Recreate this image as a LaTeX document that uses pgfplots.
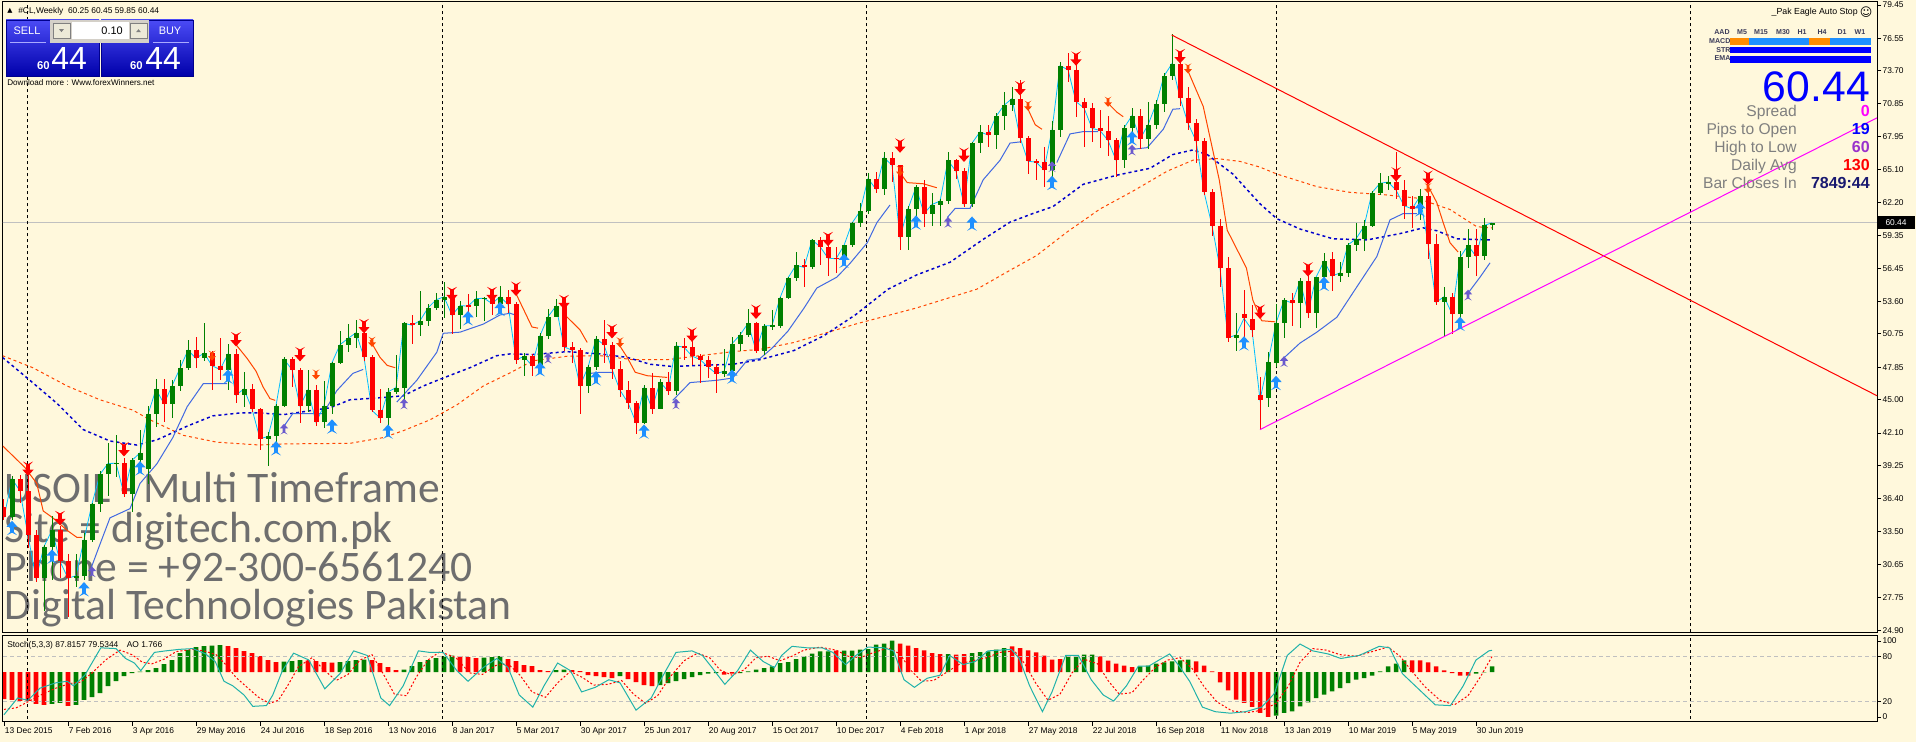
\documentclass[border=0pt]{standalone}
\usepackage{fontspec}
\setmainfont{Liberation Sans}
\newfontfamily\carlito{Carlito}
\newfontfamily\dejavu{DejaVu Sans}
\usepackage{pgfplots}
\pgfplotsset{compat=1.18}
\usepackage{pgfplotstable}
\definecolor{bg}{HTML}{FFF8DC}
\definecolor{bull}{HTML}{008000}
\definecolor{bear}{HTML}{FF0000}
\definecolor{ored}{HTML}{FF4500}
\definecolor{rblue}{HTML}{4169E1}
\definecolor{dsky}{HTML}{00BFFF}
\definecolor{mblue}{HTML}{0000CD}
\definecolor{dodger}{HTML}{1E90FF}
\definecolor{slate}{HTML}{6A5ACD}
\definecolor{lsg}{HTML}{20B2AA}
\definecolor{wm}{HTML}{6E6E6E}
\definecolor{lgrey}{HTML}{C0C0C0}
\definecolor{dorange}{HTML}{FF8C00}
\definecolor{purp}{HTML}{9932CC}
\definecolor{navy2}{HTML}{191970}
\definecolor{lbl}{HTML}{7F7F7F}
\definecolor{magen}{HTML}{FF00FF}
\definecolor{lotgrey}{RGB}{212,208,200}
\definecolor{btn}{RGB}{236,233,216}
\definecolor{sepc}{RGB}{170,170,255}
\definecolor{hdr}{RGB}{60,60,90}
\definecolor{shtop}{RGB}{75,75,245}
\definecolor{shbot}{RGB}{0,0,170}
\definecolor{shdraw}{RGB}{0,0,140}
\pgfdeclareplotmark{dnarrow}{%
\pgfpathmoveto{\pgfqpoint{0pt}{-\pgfplotmarksize}}%
\pgfpathlineto{\pgfqpoint{0.9\pgfplotmarksize}{0pt}}%
\pgfpathlineto{\pgfqpoint{0.3\pgfplotmarksize}{0pt}}%
\pgfpathlineto{\pgfqpoint{0.3\pgfplotmarksize}{0.8\pgfplotmarksize}}%
\pgfpathlineto{\pgfqpoint{0.8\pgfplotmarksize}{1.3\pgfplotmarksize}}%
\pgfpathlineto{\pgfqpoint{0pt}{0.9\pgfplotmarksize}}%
\pgfpathlineto{\pgfqpoint{-0.8\pgfplotmarksize}{1.3\pgfplotmarksize}}%
\pgfpathlineto{\pgfqpoint{-0.3\pgfplotmarksize}{0.8\pgfplotmarksize}}%
\pgfpathlineto{\pgfqpoint{-0.3\pgfplotmarksize}{0pt}}%
\pgfpathlineto{\pgfqpoint{-0.9\pgfplotmarksize}{0pt}}%
\pgfpathclose\pgfusepathqfill}
\pgfdeclareplotmark{uparrow}{%
\pgfpathmoveto{\pgfqpoint{0pt}{\pgfplotmarksize}}%
\pgfpathlineto{\pgfqpoint{0.9\pgfplotmarksize}{0pt}}%
\pgfpathlineto{\pgfqpoint{0.3\pgfplotmarksize}{0pt}}%
\pgfpathlineto{\pgfqpoint{0.3\pgfplotmarksize}{-0.8\pgfplotmarksize}}%
\pgfpathlineto{\pgfqpoint{0.8\pgfplotmarksize}{-1.3\pgfplotmarksize}}%
\pgfpathlineto{\pgfqpoint{0pt}{-0.9\pgfplotmarksize}}%
\pgfpathlineto{\pgfqpoint{-0.8\pgfplotmarksize}{-1.3\pgfplotmarksize}}%
\pgfpathlineto{\pgfqpoint{-0.3\pgfplotmarksize}{-0.8\pgfplotmarksize}}%
\pgfpathlineto{\pgfqpoint{-0.3\pgfplotmarksize}{0pt}}%
\pgfpathlineto{\pgfqpoint{-0.9\pgfplotmarksize}{0pt}}%
\pgfpathclose\pgfusepathqfill}
\pgfplotsset{every tick label/.append style={font=\fontsize{6.3}{7}\selectfont}}
\pgfplotstableread{
i o h l c
0 35.62 36.38 34.53 34.73
1 34.73 38.39 34.53 38.10
2 38.10 38.40 36.02 37.04
3 37.04 38.39 32.10 33.16
4 33.16 33.60 29.13 29.42
5 29.42 32.35 26.55 32.19
6 32.19 34.82 29.25 33.62
7 33.62 33.99 29.46 30.89
8 30.89 31.50 26.05 29.44
9 29.44 31.53 28.70 29.64
10 29.64 33.40 29.30 32.78
11 32.78 36.00 32.60 35.92
12 35.92 38.80 35.20 38.50
13 38.50 41.20 36.60 39.44
14 39.44 41.90 38.30 39.46
15 39.46 39.90 36.50 36.79
16 36.79 39.90 35.24 39.72
17 39.72 42.40 39.00 40.36
18 39.00 44.50 37.61 43.73
19 43.73 46.78 42.60 45.92
20 45.92 46.80 43.03 44.66
21 44.66 46.70 43.40 46.21
22 46.21 48.50 45.80 47.75
23 47.75 50.21 47.60 49.33
24 49.33 50.50 47.80 48.62
25 48.62 51.67 48.40 49.07
26 49.07 49.30 45.83 47.98
27 47.98 50.42 46.70 47.64
28 47.64 49.90 45.83 48.99
29 48.99 49.40 44.70 45.41
30 45.41 47.40 44.40 45.95
31 45.95 46.40 43.90 44.19
32 44.19 44.30 40.60 41.60
33 41.60 42.20 39.19 41.80
34 41.80 44.60 41.20 44.49
35 44.49 48.75 44.40 48.52
36 48.52 48.75 46.10 47.64
37 47.64 47.80 43.00 44.44
38 44.44 47.60 43.90 45.88
39 45.88 46.30 42.70 43.03
40 43.03 46.60 42.50 44.48
41 44.48 48.30 43.80 48.24
42 48.24 51.00 48.10 49.81
43 49.81 51.60 49.20 50.35
44 50.35 51.93 49.50 50.85
45 50.85 50.90 48.40 48.70
46 48.70 48.90 43.90 44.07
47 44.07 45.90 43.00 43.41
48 43.41 46.00 42.20 45.69
49 45.69 48.90 45.50 46.06
50 46.06 51.80 44.80 51.68
51 51.68 52.40 49.90 51.50
52 51.50 54.51 50.60 51.90
53 51.90 53.40 51.40 53.02
54 53.02 54.30 52.80 53.72
55 53.72 55.24 52.11 53.99
56 53.99 54.00 50.71 52.37
57 52.37 53.60 51.20 53.22
58 53.22 54.20 52.10 53.17
59 53.17 54.50 52.20 53.83
60 53.83 54.00 51.90 53.86
61 53.86 54.10 52.40 53.40
62 53.40 54.94 53.30 53.99
63 53.99 54.60 52.60 53.33
64 53.33 53.50 48.10 48.49
65 48.49 49.10 47.10 48.78
66 48.78 49.00 47.10 47.97
67 47.97 50.80 47.30 50.60
68 50.60 52.90 50.30 52.24
69 52.24 53.76 52.20 53.18
70 53.18 53.60 49.30 49.62
71 49.62 50.00 48.20 49.33
72 49.33 49.50 43.76 46.22
73 46.22 48.00 45.60 47.84
74 47.84 50.60 47.60 50.33
75 50.33 52.00 48.20 49.80
76 49.80 50.00 46.80 47.66
77 47.66 48.40 45.20 45.83
78 45.83 46.60 44.20 44.74
79 44.74 44.90 42.05 43.01
80 43.01 46.30 42.90 46.04
81 46.04 47.30 43.80 44.23
82 44.23 46.80 44.20 46.54
83 46.54 47.40 45.40 45.77
84 45.77 50.00 45.40 49.71
85 49.71 50.40 48.50 49.58
86 49.58 50.20 48.00 48.82
87 48.82 49.00 46.50 48.51
88 48.51 48.80 46.90 47.87
89 47.87 48.10 45.60 47.29
90 47.29 49.40 47.00 47.48
91 47.48 50.50 47.10 49.89
92 49.89 50.90 49.30 50.66
93 50.66 52.90 50.50 51.67
94 51.67 51.80 49.10 49.29
95 49.29 51.60 48.90 51.45
96 51.45 52.80 51.10 51.47
97 51.47 54.00 51.30 53.90
98 53.90 55.70 53.80 55.64
99 55.64 57.90 55.40 56.74
100 56.74 57.30 54.80 56.55
101 56.55 59.05 56.40 58.95
102 58.95 59.20 56.80 58.36
103 58.36 58.50 55.80 57.36
104 57.36 58.30 56.10 57.30
105 57.30 58.50 57.10 58.47
106 58.47 60.50 58.30 60.42
107 60.42 62.20 60.10 61.44
108 61.44 64.80 61.20 64.30
109 64.30 64.90 63.00 63.37
110 63.37 66.66 62.90 66.14
111 66.14 66.60 64.00 65.45
112 65.45 65.50 58.07 59.20
113 59.20 61.90 58.07 61.68
114 61.68 63.70 60.90 63.55
115 63.55 64.20 60.10 61.25
116 61.25 63.00 60.20 62.04
117 62.04 62.50 60.20 62.34
118 62.34 66.60 62.10 65.88
119 65.88 66.00 64.30 64.94
120 64.94 65.20 61.80 62.06
121 62.06 67.50 61.80 67.39
122 67.39 69.00 66.50 68.38
123 68.38 69.00 67.10 68.10
124 68.10 70.00 66.90 69.72
125 69.72 71.89 68.50 70.70
126 70.70 72.30 70.20 71.28
127 71.28 72.90 67.40 67.88
128 67.88 68.00 64.70 65.81
129 65.81 66.00 64.20 65.74
130 65.74 67.10 63.60 65.06
131 65.06 69.30 63.50 68.58
132 68.58 74.50 67.90 74.15
133 74.15 75.27 72.70 73.80
134 73.80 74.70 69.70 71.01
135 71.01 71.30 67.10 70.46
136 70.46 70.90 67.50 68.69
137 68.69 70.30 67.00 68.49
138 68.49 69.80 66.30 67.63
139 67.63 67.80 64.40 65.91
140 65.91 69.00 65.20 68.72
141 68.72 70.50 68.40 69.80
142 69.80 70.40 66.90 67.75
143 67.75 71.00 66.90 68.99
144 68.99 71.20 68.60 70.78
145 70.78 73.50 70.10 73.25
146 73.25 76.90 72.90 74.34
147 74.34 75.00 70.60 71.34
148 71.34 72.30 68.50 69.12
149 69.12 69.50 65.70 67.59
150 67.59 67.80 62.90 63.14
151 63.14 63.40 59.30 60.19
152 60.19 60.80 54.80 56.46
153 56.46 57.50 50.00 50.42
154 50.42 52.60 49.30 50.65
155 52.45 54.60 49.90 52.10
156 52.05 53.30 50.50 51.10
157 45.40 47.00 42.40 45.00
158 45.15 49.20 44.40 48.30
159 48.20 53.40 47.90 51.70
160 51.70 53.90 50.40 53.70
161 53.70 54.30 51.40 53.45
162 53.45 55.60 51.30 55.35
163 55.35 56.30 52.10 52.60
164 52.60 55.70 51.30 55.70
165 55.70 57.80 55.10 57.10
166 57.26 57.90 54.50 55.80
167 55.80 57.00 55.30 56.07
168 56.07 58.70 55.70 58.52
169 58.52 60.40 58.00 59.04
170 59.04 60.70 58.00 60.14
171 60.14 63.20 60.10 63.08
172 63.08 64.80 62.90 63.89
173 63.89 64.50 63.30 64.00
174 64.00 66.60 62.50 63.30
175 63.30 64.20 60.80 61.94
176 61.94 62.80 60.00 61.66
177 61.66 63.40 60.70 62.76
178 62.76 63.70 57.30 58.63
179 58.63 59.50 53.30 53.50
180 53.50 54.80 50.60 53.99
181 53.99 54.30 50.70 52.51
182 52.51 58.00 51.30 57.43
183 57.43 59.90 56.50 58.47
184 58.47 59.90 55.80 57.51
185 57.51 60.90 57.20 60.21
186 60.25 60.45 59.85 60.44
}\candles
\pgfplotstableread{
i a g
0 -27 0
1 -28 0
2 -29 0
3 -29 0
4 -32 0
5 -33 0
6 -32 1
7 -31 1
8 -34 0
9 -33 1
10 -28 1
11 -25 1
12 -21 1
13 -14 1
14 -9 1
15 -4 1
16 -1 1
17 0.5 1
18 2 1
19 4 1
20 8 1
21 12 1
22 19 1
23 22 1
24 25 1
25 26 1
26 26.5 1
27 27 1
28 26 0
29 24 0
30 21 0
31 19 0
32 16 0
33 12 0
34 10 0
35 10.5 1
36 11 1
37 12 1
38 11.5 0
39 11 0
40 10 0
41 9.5 0
42 10 1
43 11 1
44 12 1
45 12.5 1
46 12 0
47 9 0
48 5 0
49 2 0
50 2.5 1
51 6 1
52 10 1
53 12 1
54 14 1
55 16 1
56 16.5 1
57 16 0
58 15 0
59 14 0
60 14.5 1
61 15 1
62 16 1
63 13 0
64 11 0
65 7 0
66 6 0
67 2 0
68 1 0
69 2 1
70 2.5 1
71 2 0
72 1 0
73 -3 0
74 -4 0
75 -5 0
76 -6 0
77 -4 1
78 -7 0
79 -10 0
80 -13 0
81 -14 0
82 -13 1
83 -11 1
84 -9 1
85 -7 1
86 -5 1
87 -3 1
88 -1.7 1
89 -1 1
90 -2.7 0
91 -1.7 0
92 -1 1
93 0.7 1
94 2.3 1
95 4 1
96 5.7 1
97 9 1
98 10 1
99 13 1
100 15.7 1
101 18.3 1
102 20.7 1
103 20.7 1
104 21.3 0
105 21.3 1
106 21.3 1
107 22.3 1
108 23 1
109 27.3 1
110 28.3 1
111 31.3 1
112 28.3 0
113 26.3 0
114 24 0
115 21.7 0
116 19 0
117 18 0
118 18 1
119 17.3 0
120 18 0
121 19 1
122 20 1
123 20.7 1
124 22.3 1
125 24 1
126 25.7 0
127 24 0
128 21.7 0
129 19.7 0
130 16.3 0
131 12.3 0
132 13 0
133 15.7 1
134 16.3 1
135 17.3 1
136 17.3 1
137 15.7 0
138 11.3 0
139 8.3 0
140 6.3 0
141 5 0
142 5.7 1
143 6.3 1
144 8.3 1
145 9.7 1
146 10.7 1
147 11.7 1
148 12.3 1
149 10.7 0
150 6.3 0
151 0.7 0
152 -10.3 0
153 -18.3 0
154 -27.7 0
155 -31 0
156 -35 0
157 -41 0
158 -45 0
159 -43.7 1
160 -41 1
161 -39.3 1
162 -34.3 1
163 -30.3 1
164 -26 1
165 -22.7 1
166 -19.3 1
167 -16 1
168 -11 1
169 -7.7 1
170 -6 1
171 -3.7 1
172 0.7 1
173 5.7 1
174 8.3 1
175 11.7 1
176 11.7 0
177 11.7 0
178 9.7 0
179 5.7 0
180 1.7 0
181 -1 0
182 -3.7 0
183 -3.7 0
184 -1.7 1
185 -0.3 1
186 5.7 1
}\aotab
\begin{document}
\begin{tikzpicture}
\useasboundingbox (0,0) rectangle (1437pt,556.5pt);
\fill[bg] (0,0) rectangle (1437pt,556.5pt);
% watermark text
\begin{scope}[wm, every node/.style={anchor=base west, inner sep=0pt, font=\carlito\fontsize{32.7}{38}\selectfont}]
\node at (3pt,179.25pt) {\smash{USOIL - Multi Timeframe}};
\node at (3pt,149.25pt) {\smash{Site = digitech.com.pk}};
\node at (3pt,120pt) {\smash{Phone = +92-300-6561240}};
\node at (3pt,91.5pt) {\smash{Digital Technologies Pakistan}};
\end{scope}
% ================= MAIN PRICE PANEL =================
\begin{axis}[
  at={(2.25pt,81.75pt)}, anchor=south west,
  width=1405.5pt, height=473.25pt, scale only axis,
  xmin=-0.125, xmax=234.125, ymin=24.65, ymax=79.71,
  axis line style={line width=0.75pt},
  xtick=\empty,
  ytick={79.45,76.55,73.70,70.85,67.95,65.10,62.20,59.35,56.45,53.60,50.75,47.85,45.00,42.10,39.25,36.40,33.50,30.65,27.75,24.90},
  ytick pos=right, yticklabel pos=right,
  tick align=outside, major tick length=3pt,
  tick style={black, line width=0.6pt},
  yticklabel style={/pgf/number format/fixed, /pgf/number format/fixed zerofill, /pgf/number format/precision=2, /pgf/number format/assume math mode=true, anchor=west, inner sep=1pt},
]
% bid line
\addplot[lgrey, line width=0.75pt] coordinates {(-1,60.44) (240,60.44)};
% period separators
\pgfplotsinvokeforeach{2.875,54.75,107.75,159,210.75}{
\addplot[black, line width=0.75pt, dash pattern=on 2.25pt off 2.25pt] coordinates {(#1,20) (#1,85)};}
% slow MAs
\addplot[ored, line width=0.75pt, dash pattern=on 2.25pt off 2.25pt] coordinates {(-0.2,48.85) (3.6,47.8) (7.9,46.2) (12,45.0) (16.1,44.1) (18.25,43.25) (22.4,41.9) (26.6,41.3) (32,41.05) (34.9,41.15) (43.25,41.2) (47.4,41.7) (49.9,42.3) (53.25,43.25) (56.6,44.55) (59.9,46.2) (63.25,47.35) (66.1,48.4) (70.4,48.8) (74.5,48.85) (78.6,48.5) (82.9,48.5) (87,48.85) (91.1,49.2) (94.5,49.4) (98.75,50.0) (106.4,51.6) (114,53.0) (121.6,54.65) (125.75,56.3) (129.1,57.6) (132.9,59.65) (137,61.65) (141.1,63.2) (145.4,64.95) (148.6,65.9) (151.6,66.05) (154.5,65.8) (157,65.3) (159.1,64.7) (164.1,63.6) (168.25,63.1) (172.4,62.9) (176.6,62.6) (180.75,61.6) (184.1,60.1) (186,60.0)};
\addplot[mblue, line width=1.1pt, dash pattern=on 2.25pt off 2.25pt] coordinates {(-0.2,48.7) (2.9,46.9) (6.6,44.7) (9.9,42.4) (13.25,41.4) (16.6,41.05) (19.1,41.5) (22.9,42.7) (26.1,43.6) (29.5,43.85) (32,43.85) (34.9,43.7) (40.75,44.3) (43.25,45.0) (47.4,45.2) (49.9,45.35) (52.4,46.2) (54.9,46.9) (58.25,47.8) (61.6,48.85) (63.25,49.0) (66.1,48.95) (70.4,49.2) (74.5,49.0) (77.9,48.7) (80.75,48.1) (83.6,47.9) (87,48.0) (91.1,48.1) (94.5,48.5) (98.75,49.3) (102.5,50.6) (106.4,52.4) (110.5,54.65) (114.1,55.9) (118.25,57.0) (122.4,59.0) (125.75,60.5) (128.6,61.25) (131.1,61.85) (134.9,63.8) (139.1,64.6) (143.25,65.2) (146.1,66.4) (148.6,66.8) (150.4,66.4) (153.6,64.7) (157,62.1) (159.1,60.8) (162,59.9) (166.1,59.05) (170.4,58.95) (174.5,59.5) (177.4,60.0) (179.1,59.75) (181.6,59.05) (185.4,58.95) (186,58.95)};
% trailing stop lines (resistance, orange-red)
\addplot[ored, line width=0.75pt] coordinates {(-0.2,41.0) (2.6,39.1) (4.1,37.7) (4.9,35.3) (6.1,34.7) (7.9,33.6) (9.1,33.0) (9.75,33.0)};
\addplot[ored, line width=0.75pt] coordinates {(28.9,49.9) (30.4,48.6) (31.5,47.5) (32.4,46.1) (33.25,45.1) (33.9,44.95)};
\addplot[ored, line width=0.75pt] coordinates {(45.75,50.2) (47,48.7) (47.9,48.0) (48.9,47.8)};
\addplot[ored, line width=0.75pt] coordinates {(63.9,54.4) (66,51.35) (66.75,51.25)};
\addplot[ored, line width=0.75pt] coordinates {(69.9,52.55) (72,51.1) (72.9,50.0)};
\addplot[ored, line width=0.75pt] coordinates {(76.75,49.95) (77.9,48.7) (78.9,47.4) (80.4,47.1) (82.9,46.95)};
\addplot[ored, line width=0.75pt] coordinates {(111.9,64.9) (112.9,63.95) (114.9,63.85) (116.6,63.5)};
\addplot[ored, line width=0.75pt] coordinates {(127.9,70.5) (128.9,69.0) (129.75,68.6)};
\addplot[ored, line width=0.75pt] coordinates {(137.9,70.95) (139.1,70.1) (139.9,69.7)};
\addplot[ored, line width=0.75pt] coordinates {(147.9,73.85) (149.9,70.6) (151.9,64.2) (152.9,59.8) (155.3,56.5) (156.1,53.7) (157.2,51.9) (158.9,51.8)};
\addplot[ored, line width=0.75pt] coordinates {(177.9,63.8) (179.1,62.2) (179.9,60.45) (180.75,58.7) (181.75,57.9)};
% trailing stop lines (support, royal blue)
\addplot[rblue, line width=0.75pt] coordinates {(10.75,30.06) (12,32.4) (13.25,34.7) (15.75,35.5) (17,37.7) (19.1,39.4) (21.1,41.7) (22.9,44.4) (24.9,46.4) (27.9,46.4)};
\addplot[rblue, line width=0.75pt] coordinates {(34.9,42.6) (36.1,43.8) (39.9,43.8) (41.6,45.8) (43.6,47.3) (44.9,47.65)};
\addplot[rblue, line width=0.75pt] coordinates {(49.1,44.8) (51.6,46.7) (54.1,49.15) (54.9,50.8) (57,50.9) (59.9,51.6) (62,52.4) (63.25,52.55) (63.9,52.4)};
\addplot[rblue, line width=0.75pt] coordinates {(73.25,47.3) (74.5,47.4) (76,47.4)};
\addplot[rblue, line width=0.75pt] coordinates {(83.6,44.95) (85.75,46.5) (89.1,46.7) (91.1,46.9) (92.9,48.45) (94.5,48.6) (96,49.5) (98,51.0) (100,53.0) (101.6,54.75) (104.1,55.7) (105.75,56.9) (107.9,58.7) (109.1,60.45) (110.75,62.0)};
\addplot[rblue, line width=0.75pt] coordinates {(117.9,60.9) (118.9,61.7) (120.75,61.7) (122.4,64.2) (124.5,65.9) (125.75,67.4) (127,67.5)};
\addplot[rblue, line width=0.75pt] coordinates {(131.6,65.7) (133.25,68.2) (134.9,68.4) (136.75,68.4)};
\addplot[rblue, line width=0.75pt] coordinates {(141,66.85) (142.9,67.0) (144.9,68.6) (146.1,70.35) (147,70.4)};
\addplot[rblue, line width=0.75pt] coordinates {(159.9,48.6) (162,49.95) (164.1,50.9) (166.6,52.2) (169.1,54.85) (171.6,57.5) (173.25,60.7) (174.9,61.25) (176.6,61.25)};
\addplot[rblue, line width=0.75pt] coordinates {(183,54.3) (184.5,55.7) (185.75,56.95)};
% fast line
\addplot[dsky, line width=0.6pt] table[x=i,y=c]{\candles};
% candles: wicks
\addplot[draw=none, mark=none, restrict expr to domain={\thisrow{c}-\thisrow{o}}{0:1000},
  error bars/.cd, y dir=both, y explicit, error mark=none, error bar style={draw=bull, line width=0.75pt}]
  table[x=i, y expr=(\thisrow{h}+\thisrow{l})/2, y error plus expr=(\thisrow{h}-\thisrow{l})/2, y error minus expr=(\thisrow{h}-\thisrow{l})/2]{\candles};
\addplot[draw=none, mark=none, restrict expr to domain={\thisrow{c}-\thisrow{o}}{-1000:-0.0001},
  error bars/.cd, y dir=both, y explicit, error mark=none, error bar style={draw=bear, line width=0.75pt}]
  table[x=i, y expr=(\thisrow{h}+\thisrow{l})/2, y error plus expr=(\thisrow{h}-\thisrow{l})/2, y error minus expr=(\thisrow{h}-\thisrow{l})/2]{\candles};
% candles: bodies
\addplot[draw=none, mark=none, restrict expr to domain={\thisrow{c}-\thisrow{o}}{0:1000},
  error bars/.cd, y dir=both, y explicit, error mark=none, error bar style={draw=bull, line width=3.75pt}]
  table[x=i, y expr=(\thisrow{o}+\thisrow{c})/2, y error plus expr={max(abs(\thisrow{c}-\thisrow{o})/2,0.05)}, y error minus expr={max(abs(\thisrow{c}-\thisrow{o})/2,0.05)}]{\candles};
\addplot[draw=none, mark=none, restrict expr to domain={\thisrow{c}-\thisrow{o}}{-1000:-0.0001},
  error bars/.cd, y dir=both, y explicit, error mark=none, error bar style={draw=bear, line width=3.75pt}]
  table[x=i, y expr=(\thisrow{o}+\thisrow{c})/2, y error plus expr={max(abs(\thisrow{c}-\thisrow{o})/2,0.05)}, y error minus expr={max(abs(\thisrow{c}-\thisrow{o})/2,0.05)}]{\candles};
% signal arrows
\addplot[only marks, mark=dnarrow, mark size=4.7pt, color=bear] coordinates {(3,38.9) (7,34.6) (15,40.6) (29,50.2) (37,48.9) (45,51.35) (56,54.15) (61,54.15) (64,54.6) (70,53.45) (76,50.9) (86,50.6) (94,52.6) (103,58.95) (112,67.1) (120,66.3) (127,72.1) (134,74.7) (147,74.9) (157,52.6) (163,56.3) (174,64.6) (178,64.3)};
\addplot[only marks, mark=dnarrow, mark size=3.3pt, color=ored] coordinates {(26,48.8) (39,47.15) (46,50.0) (77,49.95) (112,64.9) (128,70.6) (138,70.95) (148,73.85) (178,63.4)};
\addplot[only marks, mark=uparrow, mark size=4.7pt, color=dodger] coordinates {(1,33.9) (6,31.4) (10,28.55) (17,39.1) (28,47.1) (34,40.85) (41,42.75) (48,42.3) (58,52.2) (62,53.0) (67,47.75) (74,46.95) (80,42.3) (91,47.1) (105,57.2) (114,60.55) (121,60.45) (131,64.0) (141,67.9) (155,50.0) (159,46.55) (165,55.2) (177,61.7) (182,51.7)};
\addplot[only marks, mark=uparrow, mark size=3.5pt, color=slate] coordinates {(11,30.05) (35,42.5) (50,44.7) (68,48.7) (84,44.7) (118,60.55) (131,65.4) (141,66.85) (160,48.4) (183,54.2)};
% trend lines
\addplot[bear, line width=0.75pt] coordinates {(145.96,76.83) (234.125,45.35)};
\addplot[magen, line width=0.75pt] coordinates {(157,42.4) (234.125,69.6)};
\end{axis}
% ================= AO HISTOGRAM =================
\begin{axis}[
  at={(2.25pt,15pt)}, anchor=south west,
  width=1405.5pt, height=64.5pt, scale only axis,
  xmin=-0.125, xmax=234.125, ymin=-50, ymax=36,
  hide axis, ybar, bar width=3.4pt,
]
\addplot[fill=bull, draw=none, bar shift=0pt, restrict expr to domain={\thisrow{g}}{0.5:1.5}] table[x=i,y=a]{\aotab};
\addplot[fill=bear, draw=none, bar shift=0pt, restrict expr to domain={\thisrow{g}}{-0.5:0.5}] table[x=i,y=a]{\aotab};
\end{axis}
% ================= STOCHASTIC =================
\begin{axis}[
  at={(2.25pt,15pt)}, anchor=south west,
  width=1405.5pt, height=64.5pt, scale only axis,
  xmin=-0.125, xmax=234.125, ymin=-6.58, ymax=106.58,
  axis line style={line width=0.75pt},
  xtick={0,8,...,184},
  xticklabels={13 Dec 2015,7 Feb 2016,3 Apr 2016,29 May 2016,24 Jul 2016,18 Sep 2016,13 Nov 2016,8 Jan 2017,5 Mar 2017,30 Apr 2017,25 Jun 2017,20 Aug 2017,15 Oct 2017,10 Dec 2017,4 Feb 2018,1 Apr 2018,27 May 2018,22 Jul 2018,16 Sep 2018,11 Nov 2018,13 Jan 2019,10 Mar 2019,5 May 2019,30 Jun 2019},
  xtick pos=left, xticklabel style={anchor=north west, inner sep=0.5pt, yshift=-0.5pt},
  ytick={0,20,80,100}, ytick pos=right, yticklabel pos=right,
  yticklabel style={/pgf/number format/assume math mode=true, anchor=west, inner sep=1pt},
  tick align=outside, major tick length=3pt,
  tick style={black, line width=0.6pt},
]
\addplot[lgrey, line width=0.75pt, dash pattern=on 3pt off 2.25pt] coordinates {(-1,80) (240,80)};
\addplot[lgrey, line width=0.75pt, dash pattern=on 3pt off 2.25pt] coordinates {(-1,20) (240,20)};
\pgfplotsinvokeforeach{2.875,54.75,107.75,159,210.75}{
\addplot[black, line width=0.75pt, dash pattern=on 2.25pt off 2.25pt] coordinates {(#1,-10) (#1,110)};}
\addplot[bear, line width=0.75pt, dash pattern=on 1.5pt off 1.5pt] coordinates {(0,10) (1.5,12) (3,20) (4.8,30) (6.5,38) (8.2,44) (9.6,46) (11,58) (12.7,75) (14.5,88) (16,82) (17.3,72) (18.5,70) (20,76) (21.5,86) (23.5,89) (25,87) (26.5,82) (27.8,68) (29,52) (30.5,38) (31.8,26) (33.2,18) (34.3,22) (35.5,42) (36.8,66) (38.5,78) (40,62) (41.5,48) (43,56) (44.5,75) (46,82) (47.5,55) (48.8,30) (50.3,28) (51.5,52) (53,75) (54.5,86) (56.5,78) (58.2,58) (59.8,56) (61.5,68) (63,70) (64.5,55) (66,33) (67.7,26) (69.2,45) (70.8,60) (72.3,52) (73.7,42) (75.5,43) (77.2,48) (78.7,30) (80.2,18) (81.7,28) (83.2,52) (85,74) (86.7,84) (88.2,78) (89.5,62) (91,55) (92.5,62) (94,78) (95.5,80) (97,74) (98.5,80) (100,88) (102,92) (104,88) (105.5,80) (107,78) (108.5,84) (110.5,91) (112,83) (113.3,62) (114.7,47) (116.2,48) (118,60) (119.5,70) (121,74) (122.8,78) (124.5,85) (126.3,87) (127.6,70) (129,44) (130.5,22) (132,30) (133.5,58) (135,76) (136.7,70) (138,48) (139.4,30) (141,32) (142.5,50) (144,66) (145.5,75) (147,78) (148.5,64) (150,40) (151.6,20) (153.5,8) (155.5,6) (157.3,9) (159,18) (160.5,40) (162,72) (163.6,90) (165.3,88) (167,82) (169,80) (171,86) (173,92) (174.5,80) (176,60) (177.6,40) (179.5,22) (181.3,16) (183,28) (184.5,52) (186,79.5)};
\addplot[lsg, line width=0.75pt] coordinates {(0,3) (1.7,25) (3,22) (4.5,38) (6.5,45) (7.9,47) (8.7,41) (10.1,55) (12.1,91) (14,90) (15.2,77) (16.3,71) (17.1,61) (18.8,85) (20.2,87) (21.9,89) (23.6,90) (25.2,83) (26.4,73) (27.5,47) (28.6,41) (30,29) (31.1,14) (32.8,15) (33.6,29) (34.8,61) (36.2,84) (38.1,75) (40.1,37) (42,57) (43.7,87) (45.4,81) (47.1,25) (48.2,15) (49.9,41) (51.8,87) (53.2,85) (54.9,85) (56.6,61) (58,47) (59.9,65) (61.6,77) (63,65) (64.4,29) (66.1,13) (67.5,41) (69.2,71) (70.8,61) (72.2,33) (73.9,39) (75.6,49) (77,45) (79,9) (80.9,25) (82.3,53) (84,85) (86,87) (87.3,81) (88.5,65) (90.1,43) (91.7,61) (93.3,88) (94.9,73) (96.3,65) (97.2,81) (98.5,93) (100.4,91) (102.3,91) (103.6,85) (105.2,69) (106.5,81) (108,92) (110,91) (111.2,87) (112.5,49) (113.8,39) (115.4,51) (117,55) (118.2,81) (119.9,69) (121.4,73) (123,87) (125.9,89) (126.9,77) (128.2,41) (129.8,7) (131,33) (132.7,81) (134.3,81) (135.9,49) (137.4,29) (138.7,21) (140.3,41) (141.8,67) (143.1,67) (144.7,77) (145.7,83) (146.9,67) (148.2,47) (149.8,13) (151.4,7) (153.3,5) (155.2,7) (157.2,13) (158.8,31) (160.4,81) (162,96) (163.6,87) (165.5,83) (167.1,77) (169.4,81) (171.9,93) (173.2,91) (174.8,57) (176.4,41) (178.9,16) (180.8,15) (182.4,41) (184,75) (185.6,87) (186,87.8)};
\end{axis}
% ================= OVERLAYS =================
\node[anchor=west, inner sep=0pt, font=\fontsize{6.3}{7}\selectfont] at (5.25pt,72.75pt) {Stoch(5,3,3) 87.8157 79.5344\quad AO 1.766};
% header
\node[anchor=center, inner sep=0pt, font=\dejavu\fontsize{5}{6}\selectfont] at (7.5pt,548.25pt) {▲};
\node[anchor=west, inner sep=0pt, font=\fontsize{6.3}{7}\selectfont] at (13.5pt,548.25pt) {\#CL,Weekly\ \ 60.25 60.45 59.85 60.44};
% one-click panel
\shade[top color=shtop, bottom color=shbot, draw=shdraw, line width=0.5pt] (4.5pt,499.5pt) rectangle (74.25pt,541.5pt);
\shade[top color=shtop, bottom color=shbot, draw=shdraw, line width=0.5pt] (75.75pt,499.5pt) rectangle (144.75pt,541.5pt);
\fill[lotgrey] (37.5pt,524.25pt) rectangle (111.75pt,541.5pt);
\fill[white] (54pt,527.25pt) rectangle (96.75pt,540pt);
\filldraw[fill=btn, draw=gray, line width=0.3pt] (39.75pt,528pt) rectangle (52.5pt,539.25pt);
\filldraw[fill=btn, draw=gray, line width=0.3pt] (97.5pt,528pt) rectangle (110.25pt,539.25pt);
\fill[gray] (44.3pt,534.6pt) -- (47.9pt,534.6pt) -- (46.1pt,532.4pt) -- cycle;
\fill[gray] (102.1pt,532.4pt) -- (105.7pt,532.4pt) -- (103.9pt,534.6pt) -- cycle;
\node[anchor=east, inner sep=0pt, font=\fontsize{8.2}{9}\selectfont] at (92.25pt,533.25pt) {0.10};
\node[white, inner sep=0pt, font=\fontsize{8.2}{9}\selectfont] at (20.25pt,533.25pt) {SELL};
\node[white, inner sep=0pt, font=\fontsize{8.2}{9}\selectfont] at (127.5pt,533.25pt) {BUY};
\draw[sepc, line width=0.6pt] (7.5pt,525pt) -- (34.5pt,525pt);
\draw[sepc, line width=0.6pt] (114.75pt,525pt) -- (141.75pt,525pt);
\node[white, anchor=base east, inner sep=0pt, font=\bfseries\fontsize{8.5}{9}\selectfont] at (37.5pt,504pt) {60};
\node[white, anchor=base west, inner sep=0pt, font=\fontsize{24}{26}\selectfont] at (38.25pt,504pt) {44};
\node[white, anchor=base east, inner sep=0pt, font=\bfseries\fontsize{8.5}{9}\selectfont] at (107.25pt,504pt) {60};
\node[white, anchor=base west, inner sep=0pt, font=\fontsize{24}{26}\selectfont] at (108.75pt,504pt) {44};
\node[anchor=west, inner sep=0pt, font=\fontsize{6.1}{7}\selectfont] at (5.25pt,494.25pt) {Download more : Www.forexWinners.net};
% right info panel
\node[anchor=east, inner sep=0pt, font=\fontsize{6.6}{7}\selectfont] at (1393.5pt,547.5pt) {\_Pak Eagle Auto Stop};
\node[inner sep=0pt, font=\dejavu\fontsize{9}{10}\selectfont] at (1399.5pt,547.5pt) {☺};
\begin{scope}[every node/.style={inner sep=0pt, font=\bfseries\fontsize{5.3}{6}\selectfont, text=hdr}]
\node at (1291.5pt,532.5pt) {AAD};
\node at (1306.5pt,532.5pt) {M5};
\node at (1320.75pt,532.5pt) {M15};
\node at (1337.25pt,532.5pt) {M30};
\node at (1351.5pt,532.5pt) {H1};
\node at (1366.5pt,532.5pt) {H4};
\node at (1381.5pt,532.5pt) {D1};
\node at (1395pt,532.5pt) {W1};
\node[anchor=east] at (1298pt,525.4pt) {MACD};
\node[anchor=east] at (1298pt,519pt) {STR};
\node[anchor=east] at (1298pt,512.6pt) {EMA};
\end{scope}
\fill[dorange] (1297.5pt,522.75pt) rectangle (1311.75pt,528pt);
\fill[dodger] (1311.75pt,522.75pt) rectangle (1356.75pt,528pt);
\fill[dorange] (1356.75pt,522.75pt) rectangle (1372.5pt,528pt);
\fill[dodger] (1372.5pt,522.75pt) rectangle (1403.25pt,528pt);
\fill[blue] (1297.5pt,516.75pt) rectangle (1403.25pt,521.25pt);
\fill[blue] (1297.5pt,509.25pt) rectangle (1403.25pt,514.5pt);
\node[blue, anchor=base east, inner sep=0pt, font=\fontsize{32}{34}\selectfont] at (1402.5pt,480pt) {\smash{60.44}};
\begin{scope}[every node/.style={anchor=base east, inner sep=0pt, font=\fontsize{11.7}{13}\selectfont, text=lbl}]
\node at (1347.75pt,469.25pt) {Spread};
\node at (1347.75pt,455.75pt) {Pips to Open};
\node at (1347.75pt,442pt) {High to Low};
\node at (1347.75pt,428.5pt) {Daily Avg};
\node at (1347.75pt,415.25pt) {Bar Closes In};
\end{scope}
\begin{scope}[every node/.style={anchor=base east, inner sep=0pt, font=\bfseries\fontsize{12}{13}\selectfont}]
\node[text=magen] at (1402.5pt,469.25pt) {0};
\node[text=blue] at (1402.5pt,455.75pt) {19};
\node[text=purp] at (1402.5pt,442pt) {60};
\node[text=red] at (1402.5pt,428.5pt) {130};
\node[text=navy2] at (1402.5pt,415.25pt) {7849:44};
\end{scope}
\fill[black] (1407.75pt,384.5pt) rectangle (1436.25pt,394.25pt);
\node[white, inner sep=0pt, font=\fontsize{6.3}{7}\selectfont] at (1422pt,389.3pt) {60.44};
\end{tikzpicture}
\end{document}
